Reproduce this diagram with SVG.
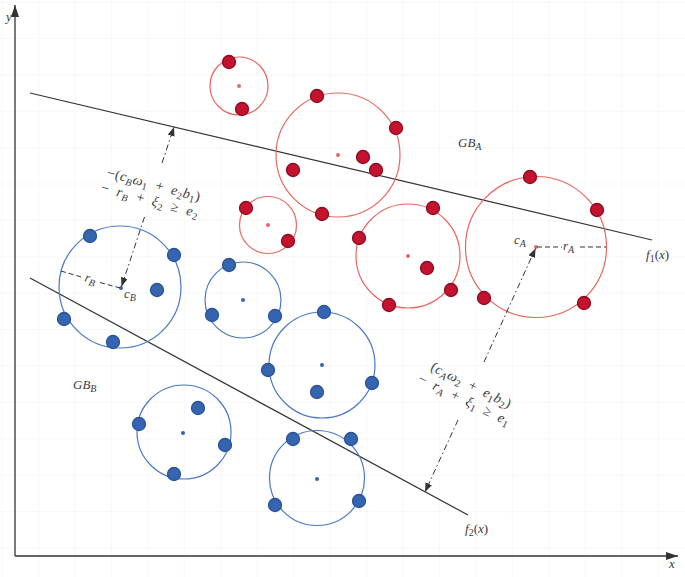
<svg xmlns="http://www.w3.org/2000/svg" width="685" height="577" viewBox="0 0 685 577">
<style>
.ax{stroke:#333;stroke-width:1.3;fill:none}
.ln{stroke:#333;stroke-width:1.2;fill:none}
.rc{stroke:#e8675e;stroke-width:1.2;fill:none}
.bc{stroke:#4a78c4;stroke-width:1.2;fill:none}
.rp{fill:#c4122f;stroke:#8a0c20;stroke-width:1.3}
.bp{fill:#3565b0;stroke:#2a5294;stroke-width:1.3}
.rd{fill:#e8675e}
.bd{fill:#3565b0}
.dd{stroke:#333;stroke-width:1;fill:none;stroke-dasharray:5 3}
.da{stroke:#333;stroke-width:1;fill:none;stroke-dasharray:6 3 1.5 3}
text{font-family:"Liberation Serif","DejaVu Serif",serif;fill:#3a3a3a;font-size:13px}
.eq{font-size:14px;word-spacing:4px;letter-spacing:0.4px}
.i{font-style:italic}
.s{font-size:10px}
</style>
<defs>
<pattern id="grid" patternUnits="userSpaceOnUse" x="1.5" y="1.5" width="36.45" height="36.4">
<path d="M0,0 H36.45 M0,0 V36.4" stroke="#f2f2f2" stroke-width="1" fill="none"/>
</pattern>
<marker id="ah" markerUnits="userSpaceOnUse" markerWidth="10" markerHeight="8" refX="9" refY="3.5" orient="auto">
<path d="M0,0 L9,3.5 L0,7 z" fill="#333"/>
</marker>
<marker id="axh" markerUnits="userSpaceOnUse" markerWidth="13" markerHeight="9" refX="12" refY="4" orient="auto">
<path d="M0,0 L12,4 L0,8 z" fill="#333"/>
</marker>
</defs>
<rect width="685" height="577" fill="#fff"/>
<rect width="685" height="577" fill="url(#grid)"/>

<g id="axes">
<path class="ax" d="M15,556 V5" marker-end="url(#axh)"/>
<path class="ax" d="M15,556 H678" marker-end="url(#axh)"/>
<text class="i" x="6" y="21" font-size="15">y</text>
<text class="i" x="669" y="568" font-size="15">x</text>
</g>

<g id="f1">
<path class="ln" d="M30,93 L652,240"/>
<text x="646" y="259" font-size="15"><tspan class="i">f</tspan><tspan font-size="10" dy="3">1</tspan><tspan dy="-3">(</tspan><tspan class="i">x</tspan>)</text>
</g>
<g id="f2">
<path class="ln" d="M30,278 L468,515"/>
<text x="465" y="533" font-size="15"><tspan class="i">f</tspan><tspan font-size="10" dy="3">2</tspan><tspan dy="-3">(</tspan><tspan class="i">x</tspan>)</text>
</g>

<g id="GBA-c1"><circle class="rc" cx="239" cy="86" r="29"/><circle class="rd" cx="239" cy="86" r="2"/><circle class="rp" cx="229" cy="62" r="6.5"/><circle class="rp" cx="242" cy="109" r="6.5"/></g>
<g id="GBA-c2"><circle class="rc" cx="338" cy="155" r="62"/><circle class="rd" cx="338" cy="155" r="2"/><circle class="rp" cx="317" cy="96" r="6.5"/><circle class="rp" cx="396" cy="128" r="6.5"/><circle class="rp" cx="293" cy="170" r="6.5"/><circle class="rp" cx="363" cy="157" r="6.5"/><circle class="rp" cx="376" cy="170" r="6.5"/><circle class="rp" cx="322" cy="214" r="6.5"/></g>
<g id="GBA-c3"><circle class="rc" cx="268" cy="225" r="28.5"/><circle class="rd" cx="268" cy="225" r="2"/><circle class="rp" cx="246" cy="208" r="6.5"/><circle class="rp" cx="288" cy="241" r="6.5"/></g>
<g id="GBA-c4"><circle class="rc" cx="408" cy="256" r="52"/><circle class="rd" cx="408" cy="256" r="2"/><circle class="rp" cx="433" cy="208" r="6.5"/><circle class="rp" cx="359" cy="238" r="6.5"/><circle class="rp" cx="427" cy="268" r="6.5"/><circle class="rp" cx="451" cy="290" r="6.5"/><circle class="rp" cx="389" cy="305" r="6.5"/></g>
<g id="GBA-c5"><circle class="rc" cx="536" cy="247" r="70.5"/><circle class="rd" cx="536" cy="247" r="2"/><circle class="rp" cx="530" cy="177" r="6.5"/><circle class="rp" cx="597" cy="210" r="6.5"/><circle class="rp" cx="484" cy="298" r="6.5"/><circle class="rp" cx="584" cy="303" r="6.5"/></g>

<g id="GBB-c1"><circle class="bc" cx="120" cy="287" r="61"/><circle class="bd" cx="121" cy="288" r="2"/><circle class="bp" cx="90" cy="236" r="6.5"/><circle class="bp" cx="174" cy="255" r="6.5"/><circle class="bp" cx="157" cy="290" r="6.5"/><circle class="bp" cx="64" cy="319" r="6.5"/><circle class="bp" cx="113" cy="342" r="6.5"/></g>
<g id="GBB-c2"><circle class="bc" cx="243" cy="300" r="38"/><circle class="bd" cx="243" cy="300" r="2"/><circle class="bp" cx="229" cy="265" r="6.5"/><circle class="bp" cx="212" cy="315" r="6.5"/><circle class="bp" cx="275" cy="316" r="6.5"/></g>
<g id="GBB-c3"><circle class="bc" cx="322" cy="365" r="53"/><circle class="bd" cx="322" cy="365" r="2"/><circle class="bp" cx="324" cy="312" r="6.5"/><circle class="bp" cx="268" cy="370" r="6.5"/><circle class="bp" cx="317" cy="392" r="6.5"/><circle class="bp" cx="372" cy="383" r="6.5"/></g>
<g id="GBB-c4"><circle class="bc" cx="184" cy="432" r="47"/><circle class="bd" cx="183" cy="433" r="2"/><circle class="bp" cx="198" cy="408" r="6.5"/><circle class="bp" cx="139" cy="424" r="6.5"/><circle class="bp" cx="225" cy="445" r="6.5"/><circle class="bp" cx="174" cy="474" r="6.5"/></g>
<g id="GBB-c5"><circle class="bc" cx="317" cy="478" r="47.5"/><circle class="bd" cx="317" cy="479" r="2"/><circle class="bp" cx="293" cy="439" r="6.5"/><circle class="bp" cx="351" cy="439" r="6.5"/><circle class="bp" cx="275" cy="505" r="6.5"/><circle class="bp" cx="359" cy="501" r="6.5"/></g>

<g id="labels">
<text x="458" y="147" font-size="15"><tspan class="i">GB</tspan><tspan class="i" font-size="10" dy="3">A</tspan></text>
<text x="73" y="389" font-size="15"><tspan class="i">GB</tspan><tspan class="i" font-size="10" dy="3">B</tspan></text>
<text x="514" y="244" font-size="14"><tspan class="i">c</tspan><tspan class="i" font-size="10" dy="3">A</tspan></text>
<text x="124" y="298" font-size="14"><tspan class="i">c</tspan><tspan class="i" font-size="10" dy="3">B</tspan></text>
<text x="563" y="250" font-size="14"><tspan class="i">r</tspan><tspan class="i" font-size="10" dy="3">A</tspan></text>
<text transform="translate(84,281) rotate(16)" font-size="14"><tspan class="i">r</tspan><tspan class="i" font-size="10" dy="3">B</tspan></text>
<g transform="translate(152,192) rotate(15)">
<text class="eq" x="0" y="-3" text-anchor="middle">−(<tspan class="i">c</tspan><tspan class="s i" dy="3">B</tspan><tspan class="i" dy="-3">ω</tspan><tspan class="s" dy="3">1</tspan><tspan dy="-3"> + </tspan><tspan class="i">e</tspan><tspan class="s" dy="3">2</tspan><tspan class="i" dy="-3">b</tspan><tspan class="s" dy="3">1</tspan><tspan dy="-3">)</tspan></text>
<text class="eq" x="0" y="13" text-anchor="middle">− <tspan class="i">r</tspan><tspan class="s i" dy="3">B</tspan><tspan dy="-3"> + </tspan><tspan class="i">ξ</tspan><tspan class="s" dy="3">2</tspan><tspan dy="-3"> ≥ </tspan><tspan class="i">e</tspan><tspan class="s" dy="3">2</tspan></text>
</g>
<g transform="translate(468,392) rotate(26)">
<text class="eq" x="0" y="-3" text-anchor="middle">(<tspan class="i">c</tspan><tspan class="s i" dy="3">A</tspan><tspan class="i" dy="-3">ω</tspan><tspan class="s" dy="3">2</tspan><tspan dy="-3"> + </tspan><tspan class="i">e</tspan><tspan class="s" dy="3">1</tspan><tspan class="i" dy="-3">b</tspan><tspan class="s" dy="3">2</tspan><tspan dy="-3">)</tspan></text>
<text class="eq" x="0" y="13" text-anchor="middle">− <tspan class="i">r</tspan><tspan class="s i" dy="3">A</tspan><tspan dy="-3"> + </tspan><tspan class="i">ξ</tspan><tspan class="s" dy="3">1</tspan><tspan dy="-3"> ≥ </tspan><tspan class="i">e</tspan><tspan class="s" dy="3">1</tspan></text>
</g>
</g>

<g id="connectors">
<path class="dd" d="M537,247 H562 M580,247 H606"/>
<path class="dd" d="M61,271 L83,277.5 M100,282.5 L120,288"/>
<path class="da" d="M484,362 L535.5,248.5" marker-end="url(#ah)"/>
<path class="da" d="M458,420 L425,492" marker-end="url(#ah)"/>
<path class="da" d="M162,163 L174,127" marker-end="url(#ah)"/>
<path class="da" d="M144.5,217 L121.5,286.5" marker-end="url(#ah)"/>
</g>
</svg>
